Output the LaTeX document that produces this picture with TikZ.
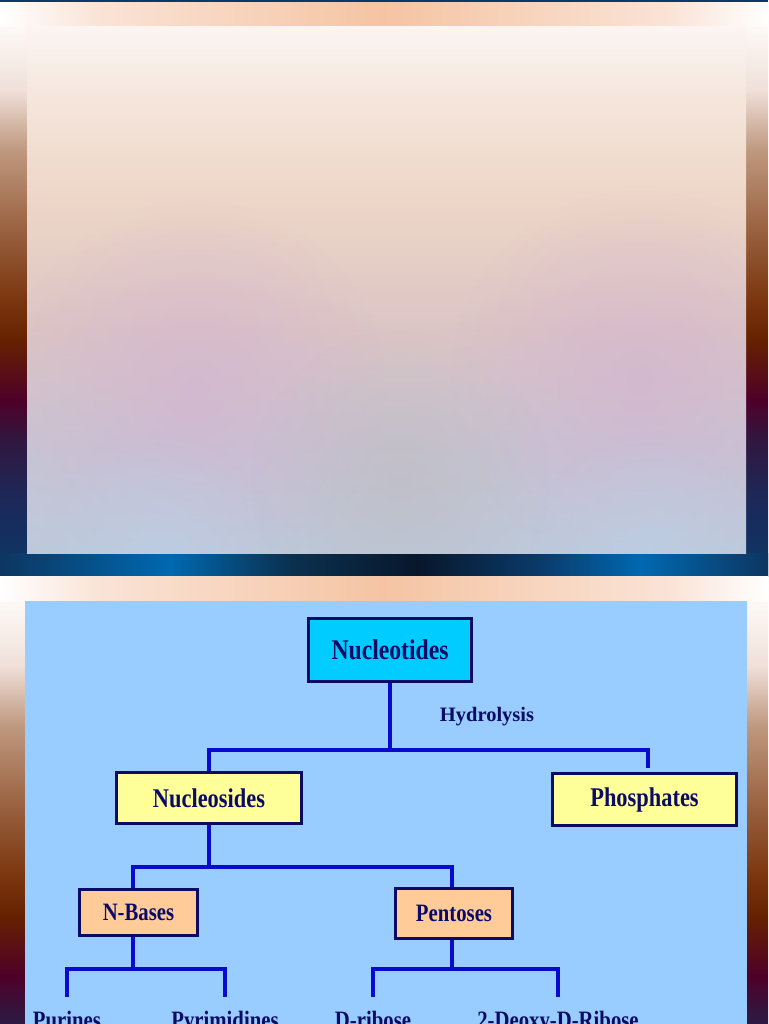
\documentclass[tikz,border=0pt]{standalone}
\usepackage{fontspec}
\setmainfont{Liberation Serif}
\newfontfamily\slidefont[FakeStretch=0.83]{Liberation Serif}
\usepackage{xcolor}
\usepackage{tikz}
\usetikzlibrary{shapes,calc,positioning,fadings}

\definecolor{navy}{HTML}{0B0B66}
\definecolor{linkblue}{HTML}{0A0ACC}
\definecolor{panelblue}{HTML}{99CCFF}
\definecolor{topcyan}{HTML}{00CCFF}
\definecolor{paleyellow}{HTML}{FFFF99}
\definecolor{peach}{HTML}{FFCC99}
\definecolor{topline}{HTML}{0A3A6A}
\definecolor{blobpink}{HTML}{D4B2D2}
\definecolor{blobgray}{HTML}{BDB9BC}
\definecolor{blobblue}{HTML}{BCD0E6}

% slide background
\pgfdeclareverticalshading{slideside}{100bp}{rgb(0bp)=(0.05,0.23,0.40); rgb(25bp)=(0.05,0.23,0.40); rgb(28.1bp)=(0.07,0.19,0.38); rgb(31.6bp)=(0.11,0.16,0.35); rgb(36.8bp)=(0.19,0.09,0.25); rgb(40.3bp)=(0.31,0,0.16); rgb(45.5bp)=(0.40,0.13,0); rgb(49bp)=(0.48,0.21,0.06); rgb(55bp)=(0.60,0.38,0.25); rgb(62bp)=(0.75,0.60,0.50); rgb(67.2bp)=(0.94,0.88,0.85); rgb(72.4bp)=(0.99,0.97,0.96); rgb(75bp)=(1,1,1); rgb(100bp)=(1,1,1)}
\pgfdeclarehorizontalshading{slidetop}{100bp}{rgb(0bp)=(1,1,1); rgb(25bp)=(1,1,1); rgb(31.5bp)=(0.98,0.89,0.84); rgb(50bp)=(0.96,0.77,0.64); rgb(68.5bp)=(0.98,0.89,0.84); rgb(75bp)=(1,1,1); rgb(100bp)=(1,1,1)}
\pgfdeclarehorizontalshading{slidebottom}{100bp}{rgb(0bp)=(0.05,0.21,0.38); rgb(25bp)=(0.05,0.21,0.38); rgb(36.1bp)=(0,0.41,0.69); rgb(43.9bp)=(0.04,0.19,0.31); rgb(52.3bp)=(0.03,0.09,0.17); rgb(60.2bp)=(0.04,0.23,0.42); rgb(66.7bp)=(0,0.41,0.69); rgb(75bp)=(0.05,0.21,0.38); rgb(100bp)=(0.05,0.21,0.38)}
\pgfdeclareverticalshading{panelwash}{100bp}{rgb(0bp)=(0.74,0.79,0.86); rgb(25bp)=(0.74,0.79,0.86); rgb(34.8bp)=(0.78,0.77,0.83); rgb(46.2bp)=(0.86,0.77,0.77); rgb(58.6bp)=(0.93,0.84,0.78); rgb(68.1bp)=(0.96,0.90,0.86); rgb(75bp)=(0.99,0.96,0.95); rgb(100bp)=(0.99,0.96,0.95)}
\tikzfading[name=softblob, inner color=transparent!0, outer color=transparent!100]

\tikzset{
  box/.style={draw=navy, line width=3pt, text=navy, font={\slidefont\bfseries\fontsize{27}{32}\selectfont}},
  smallbox/.style={box, font={\slidefont\bfseries\fontsize{25}{30}\selectfont}},
  leaf/.style={text=navy, anchor=base, inner sep=0pt, text height=17pt, font={\slidefont\bfseries\fontsize{25}{30}\selectfont}},
  conn/.style={draw=linkblue, line width=4pt}
}

\begin{document}
\begin{tikzpicture}[x=1pt, y=-1pt]
\clip (0,0) rectangle (768,1024);

% upper slide
\shade[shading=slideside] (0,0) rectangle (768,576);
\shade[shading=slidetop] (0,0) rectangle (768,27);
\shade[shading=slidebottom] (0,553) rectangle (768,576);
\fill[topline] (0,0) rectangle (768,2);
\shade[shading=panelwash] (27,27) rectangle (746,553);
\begin{scope}
  \clip (27,27) rectangle (746,553);
  \fill[blobpink, path fading=softblob, fill opacity=.6] (195,390) circle (190pt);
  \fill[blobpink, path fading=softblob, fill opacity=.6] (640,380) circle (190pt);
  \fill[blobgray, path fading=softblob, fill opacity=.5] (400,480) circle (150pt);
  \fill[blobblue, path fading=softblob, fill opacity=.6] (160,550) circle (120pt);
  \fill[blobblue, path fading=softblob, fill opacity=.6] (650,550) circle (120pt);
\end{scope}

% lower slide
\shade[shading=slideside] (0,576) rectangle (768,1152);
\shade[shading=slidetop] (0,576) rectangle (768,601);
\fill[panelblue] (25,601) rectangle (747,1152);

\coordinate(O1) at (0,0);
\node[below right=617pt and 307pt of O1, box, minimum width=163pt, minimum height=63pt, fill=topcyan, font={\slidefont\bfseries\fontsize{28.5}{34}\selectfont}](nt) {Nucleotides};
\node[below right=771pt and 115pt of O1, box, minimum width=185pt, minimum height=51pt, fill=paleyellow](ns) {Nucleosides};
\node[below right=772pt and 551pt of O1, box, minimum width=184pt, minimum height=52pt, fill=paleyellow](ph) {Phosphates};
\node[below right=888pt and 78pt of O1, smallbox, minimum width=118pt, minimum height=46pt, fill=peach](nb) {N-Bases};
\node[below right=887pt and 394pt of O1, smallbox, minimum width=117pt, minimum height=50pt, fill=peach](pe) {Pentoses};

\node[text=navy, anchor=base, font={\bfseries\fontsize{20.5}{24}\selectfont}](hy) at (487,721) {Hydrolysis};

\node[leaf](pu) at (67,1028) {Purines};
\node[leaf](py) at (225,1028) {Pyrimidines};
\node[leaf](dr) at (373,1028) {D-ribose};
\node[leaf](dd) at (558,1028) {2-Deoxy-D-Ribose};

\coordinate (h1) at (390,750);
\coordinate (h2) at (209,867);
\coordinate (h3) at (133,969);
\coordinate (h4) at (452,969);

\draw[conn] (nt.south) -- (nt.south |- h1);
\draw[conn] (ns.north) |- (h1);
\draw[conn, shorten >=4pt] (h1) -| ([xshift=3pt]ph.north);

\draw[conn] (ns.south) -- (ns.south |- h2);
\draw[conn] (nb.north -| h3) |- (h2) -| (pe.north -| h4);

\draw[conn] (nb.south -| h3) -- (h3);
\draw[conn] ([yshift=14pt]pu.north) |- (h3) -| ([yshift=14pt]py.north);

\draw[conn] (pe.south -| h4) -- (h4);
\draw[conn] ([yshift=14pt]dr.north) |- (h4) -| ([yshift=14pt]dd.north);
\end{tikzpicture}
\end{document}
